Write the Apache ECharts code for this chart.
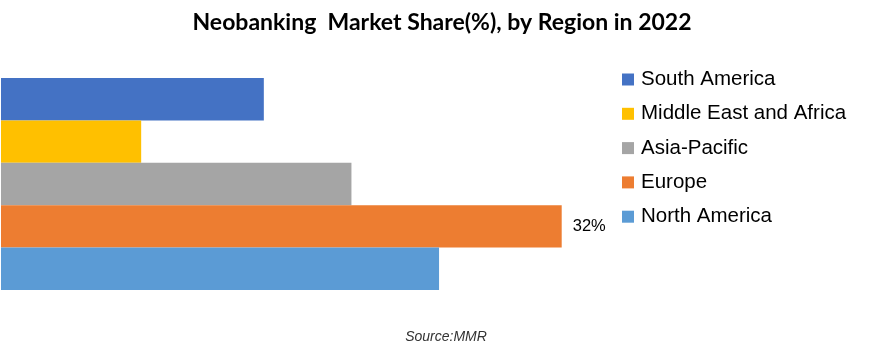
<!DOCTYPE html>
<html>
<head>
<meta charset="utf-8">
<script src="https://cdn.jsdelivr.net/npm/echarts@6/dist/echarts.min.js"></script>
<style>html,body{margin:0;padding:0;background:#fff;}#c{width:869px;height:349px;}</style>
</head>
<body>
<div id="c"></div>
<script>
const categories = ['2022'];
const regions = ['South America', 'Middle East and Africa', 'Asia-Pacific', 'Europe', 'North America'];
const shares = [15, 8, 20, 32, 25];
const colors = ['#4472C4', '#FFC000', '#A5A5A5', '#ED7D31', '#5B9BD5'];
const labelled = [false, false, false, true, false];

const chart = echarts.init(document.getElementById('c'));
chart.setOption({
  animation: false,
  backgroundColor: '#ffffff',
  title: [{
    text: 'Neobanking  Market Share(%), by Region in 2022',
    left: 437, top: 6, textAlign: 'center',
    textStyle: { fontFamily: 'Lato', fontWeight: 'bold', fontSize: 23, color: '#000' }
  }, {
    text: 'Source:MMR',
    left: 441, top: 325, textAlign: 'center',
    textStyle: { fontFamily: 'Liberation Sans', fontStyle: 'italic', fontWeight: 'normal', fontSize: 14, color: '#333' }
  }],
  legend: {
    orient: 'vertical', left: 617, top: 64,
    itemWidth: 12, itemHeight: 12, itemGap: 13.3,
    icon: 'rect',
    textStyle: { fontFamily: 'Liberation Sans', fontSize: 20.5, color: '#000', padding: [0, 0, 0, 2] },
    data: regions
  },
  grid: { left: 1, top: 78, width: 560.7, height: 212 },
  xAxis: { type: 'value', min: 0, max: 32, show: false },
  yAxis: { type: 'category', data: categories, show: false },
  series: regions.map((r, i) => ({
    name: r, type: 'bar',
    barGap: 0, barCategoryGap: 0,
    itemStyle: { color: colors[i] },
    label: {
      show: labelled[i], position: 'right', distance: 11,
      formatter: '{c}%', fontFamily: 'Liberation Sans', fontSize: 16.5, color: '#000'
    },
    data: [shares[i]]
  }))
});
</script>
</body>
</html>
